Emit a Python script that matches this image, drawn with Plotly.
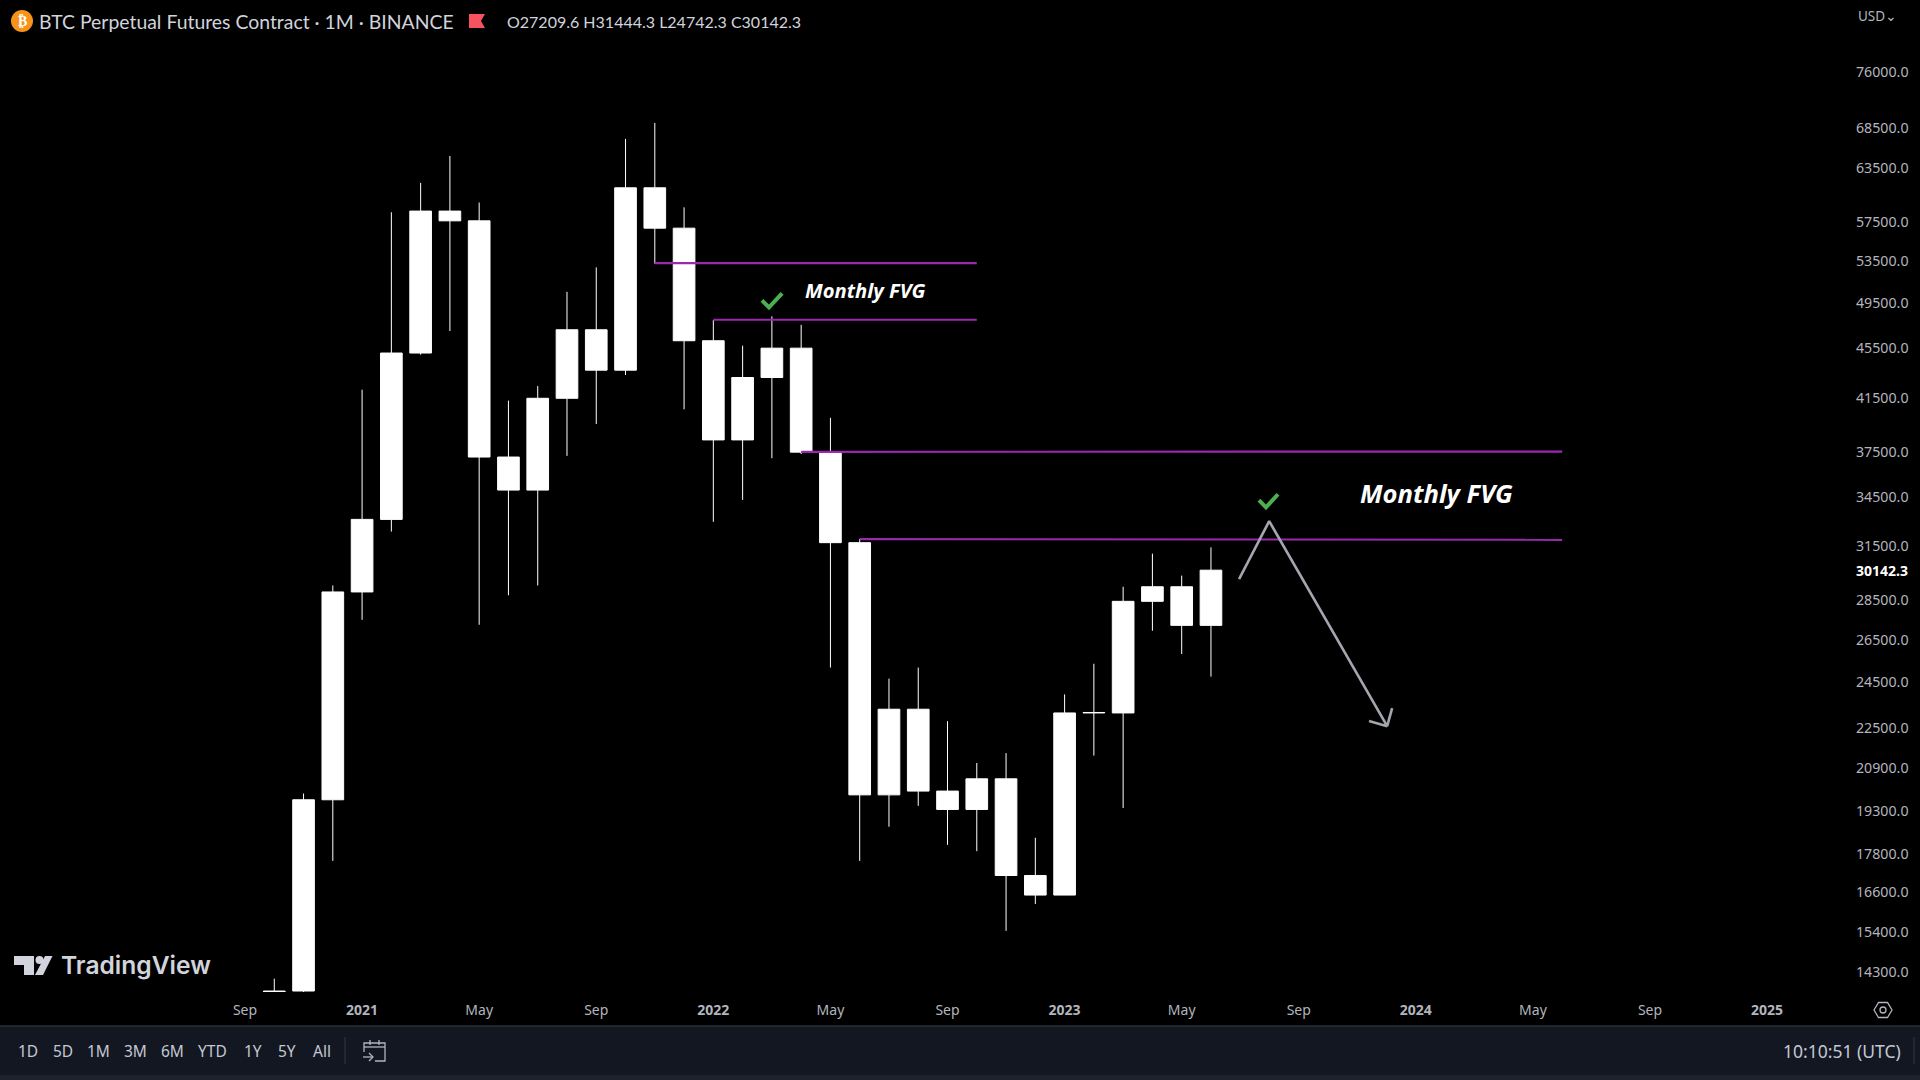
import plotly.graph_objects as go
import math

# months on the time scale, TradingView spaces them evenly so x is just the index
axis_months = ["2020-01","2020-02","2020-03","2020-04","2020-05","2020-06","2020-07","2020-08","2020-09",
               "2020-10","2020-11","2020-12","2021-01","2021-02","2021-03","2021-04","2021-05","2021-06",
               "2021-07","2021-08","2021-09","2021-10","2021-11","2021-12","2022-01","2022-02","2022-03",
               "2022-04","2022-05","2022-06","2022-07","2022-08","2022-09","2022-10","2022-11","2022-12",
               "2023-01","2023-02","2023-03","2023-04","2023-05","2023-06","2023-07","2023-08","2023-09",
               "2023-10","2023-11","2023-12","2024-01","2024-02","2024-03","2024-04","2024-05","2024-06",
               "2024-07","2024-08","2024-09","2024-10","2024-11","2024-12","2025-01","2025-02","2025-03","2025-04"]

months = axis_months[9:42]
opens  = [10776, 13810, 19690, 28950, 33120, 45090, 58670, 57620, 37180, 34970, 41460, 47080, 43680, 61260, 56840,
          46130, 38380, 43090, 45500, 37520, 31720, 19870, 23290, 20010, 19340, 20470, 17110, 16500, 23130, 23130,
          28450, 29230, 27209.6]
highs  = [14130, 19920, 29300, 42130, 58540, 61820, 64980, 59610, 41280, 42410, 50510, 52850, 67080, 69090, 59080,
          47940, 45710, 48270, 47510, 39980, 31940, 24650, 25160, 22780, 21080, 21470, 18350, 23940, 25340, 29230,
          31080, 29840, 31444.3]
lows   = [10500, 13500, 17580, 27490, 32380, 44950, 46970, 27240, 28770, 29300, 37260, 39530, 43290, 53220, 40620,
          32970, 34340, 37100, 37390, 25160, 17580, 18730, 19470, 18110, 17900, 15440, 16230, 16500, 21370, 19390,
          26940, 25800, 24742.3]
closes = [13810, 19690, 28950, 33120, 45090, 58670, 57620, 37180, 34970, 41460, 47080, 43680, 61260, 56840, 46130,
          38380, 43090, 45500, 37520, 31720, 19870, 23290, 20010, 19340, 20470, 17110, 16500, 23130, 23150, 28450,
          29230, 27209.6, 30142.3]

price_ticks = [76000, 68500, 63500, 57500, 53500, 49500, 45500, 41500, 37500, 34500, 31500,
               28500, 26500, 24500, 22500, 20900, 19300, 17800, 16600, 15400, 14300]

time_ticks = ["2020-09","2021-01","2021-05","2021-09","2022-01","2022-05","2022-09","2023-01","2023-05",
              "2023-09","2024-01","2024-05","2024-09","2025-01"]
time_labels = ["Sep","<b>2021</b>","May","Sep","<b>2022</b>","May","Sep","<b>2023</b>","May",
               "Sep","<b>2024</b>","May","Sep","<b>2025</b>"]

# purple FVG levels: start month, end month, price at start, price at end
fvg_start = ["2021-11","2022-01","2022-04","2022-06"]
fvg_end   = ["2022-10","2022-10","2024-06","2024-06"]
fvg_p0    = [53280, 47960, 37540, 31930]
fvg_p1    = [53280, 47960, 37560, 31890]

# hand drawn bits, month index (fractional) and price
arrow_x = [41.96, 42.99, 47.02, 46.40, None, 47.02, 47.19]
arrow_p = [29650, 33010, 22570, 22790, None, 22570, 23340]
check1_x = [42.64, 42.88, 43.29]
check1_p = [34320, 33870, 34700]
check2_x = [25.66, 25.90, 26.35]
check2_p = [49720, 49070, 50370]

range_buttons = ["1D","5D","1M","3M","6M","YTD","1Y","5Y","All"]
button_px = [27.5, 62.5, 98.5, 135.5, 172, 212.5, 253.5, 287, 322]

FONT = "Noto Sans"
HEAD = "Lato"
TEXT = "#b2b5be"
W, H = 1920, 1080


def px(x):
    return x / W


def py(y):
    return 1 - y / H


x_idx = [axis_months.index(m) for m in months]

fig = go.Figure()
fig.add_trace(go.Candlestick(
    x=x_idx, open=opens, high=highs, low=lows, close=closes,
    increasing=dict(line=dict(color="#ffffff", width=1), fillcolor="#ffffff"),
    decreasing=dict(line=dict(color="#ffffff", width=1), fillcolor="#ffffff"),
    whiskerwidth=0, showlegend=False,
))

for s, e, p0, p1 in zip(fvg_start, fvg_end, fvg_p0, fvg_p1):
    fig.add_trace(go.Scatter(x=[axis_months.index(s), axis_months.index(e)], y=[p0, p1], mode="lines",
                             line=dict(color="#9c27b0", width=2.2), showlegend=False))

fig.add_trace(go.Scatter(x=arrow_x, y=arrow_p, mode="lines", line=dict(color="#a3a6af", width=2.6), showlegend=False))
for cx, cp in [(check1_x, check1_p), (check2_x, check2_p)]:
    fig.add_trace(go.Scatter(x=cx, y=cp, mode="lines", line=dict(color="#4caf50", width=4), showlegend=False))

shapes = [
    # bottom toolbar
    dict(type="rect", xref="paper", yref="paper", x0=0, x1=1, y0=py(1080), y1=py(1026),
         fillcolor="#131722", line_width=0, layer="below"),
    dict(type="rect", xref="paper", yref="paper", x0=0, x1=1, y0=py(1080), y1=py(1075),
         fillcolor="#1e222d", line_width=0, layer="below"),
    dict(type="line", xref="paper", yref="paper", x0=0, x1=1, y0=py(1026), y1=py(1026),
         line=dict(color="#2a2e39", width=1.5)),
    dict(type="line", xref="paper", yref="paper", x0=px(345), x1=px(345), y0=py(1037), y1=py(1064),
         line=dict(color="#2a2e39", width=1.5)),
    dict(type="line", xref="paper", yref="paper", x0=px(1914), x1=px(1914), y0=py(1037), y1=py(1064),
         line=dict(color="#2a2e39", width=1.5)),
    # bitcoin badge and flag
    dict(type="circle", xref="paper", yref="paper", x0=px(11), x1=px(33), y0=py(32), y1=py(10),
         fillcolor="#f7931a", line_width=0),
]


def poly(points, close=False, **kw):
    path = "M" + " L".join(f"{px(a):.5f},{py(b):.5f}" for a, b in points) + (" Z" if close else "")
    d = dict(type="path", xref="paper", yref="paper", path=path)
    d.update(kw)
    return d


shapes.append(poly([(469, 14), (485, 14), (481, 21), (485, 28), (469, 28)], True, fillcolor="#f7525f", line_width=0))
# TradingView logo
shapes.append(poly([(14, 956), (34, 956), (34, 975), (24, 975), (24, 965), (14, 965)], True, fillcolor="#d1d4dc", line_width=0))
shapes.append(dict(type="circle", xref="paper", yref="paper", x0=px(35.5), x1=px(43.5), y0=py(964), y1=py(956),
                   fillcolor="#d1d4dc", line_width=0))
shapes.append(poly([(45, 956), (52.5, 956), (43, 975), (35, 975)], True, fillcolor="#d1d4dc", line_width=0))
# settings hexagon
shapes.append(poly([(1874, 1010), (1878.5, 1002.5), (1887.5, 1002.5), (1892, 1010), (1887.5, 1017.5), (1878.5, 1017.5)], True,
                   line=dict(color=TEXT, width=1.3)))
shapes.append(dict(type="circle", xref="paper", yref="paper", x0=px(1880), x1=px(1886), y0=py(1013), y1=py(1007),
                   line=dict(color=TEXT, width=1.3)))
# calendar icon
shapes.append(poly([(364, 1052), (364, 1043), (385, 1043), (385, 1061), (375, 1061)], line=dict(color=TEXT, width=1.3)))
shapes.append(poly([(364, 1047), (385, 1047)], line=dict(color=TEXT, width=1.3)))
shapes.append(poly([(370, 1040), (370, 1045)], line=dict(color=TEXT, width=1.3)))
shapes.append(poly([(379, 1040), (379, 1045)], line=dict(color=TEXT, width=1.3)))
shapes.append(poly([(363, 1057), (373, 1057)], line=dict(color=TEXT, width=1.3)))
shapes.append(poly([(369, 1053), (373, 1057), (369, 1061)], line=dict(color=TEXT, width=1.3)))


def note(text, x, y, size, color=TEXT, anchor="left", bold=False, family=FONT, weight=None):
    t = f"<b>{text}</b>" if bold else text
    f = dict(family=family, size=size, color=color)
    if weight:
        f["weight"] = weight
    return dict(text=t, x=px(x), y=py(y), xref="paper", yref="paper", xanchor=anchor, yanchor="middle",
                showarrow=False, font=f)


annotations = [
    note("₿", 22, 21, 14, "#ffffff", "center", True, "DejaVu Sans"),
    note("BTC Perpetual Futures Contract · 1M · BINANCE", 37, 21, 19.4, "#d1d4dc", family=HEAD),
    note("O27209.6 H31444.3 L24742.3 C30142.3", 505, 21, 16, "#d1d4dc", family=HEAD),
    note("USD⌄", 1856, 16, 13.5, TEXT),
    note("30142.3", 1854, 570, 14, "#ffffff", bold=True),
    note("TradingView", 59, 965, 24.6, "#d1d4dc", family="Inter", weight=600),
    note("10:10:51 (UTC)", 1903, 1051, 17.5, "#c4c8d2", "right"),
    # chart labels sit on price/time coords
    dict(text="<b><i>Monthly FVG</i></b>", x=29.17, y=math.log10(50700), xref="x", yref="y", showarrow=False,
         font=dict(family=FONT, size=20.2, color="#ffffff")),
    dict(text="<b><i>Monthly FVG</i></b>", x=48.69, y=math.log10(34770), xref="x", yref="y", showarrow=False,
         font=dict(family=FONT, size=25.6, color="#ffffff")),
]
for label, bx in zip(range_buttons, button_px):
    annotations.append(note(label, bx, 1051, 15.5, "#c4c8d2", "center"))

fig.update_layout(
    width=W, height=H, margin=dict(l=0, r=0, t=0, b=0),
    paper_bgcolor="#000000", plot_bgcolor="#000000",
    boxgap=0.26, boxgroupgap=0, showlegend=False,
    shapes=shapes, annotations=annotations,
    font=dict(family=FONT, color=TEXT),
)
fig.update_xaxes(
    domain=[0, px(1852)], range=[-0.37, 62.9], rangeslider_visible=False,
    tickmode="array", tickvals=[axis_months.index(m) for m in time_ticks], ticktext=time_labels,
    showgrid=False, zeroline=False, showline=False, ticks="", ticklabelstandoff=8,
    tickfont=dict(size=14, color=TEXT, family=FONT),
)
fig.update_yaxes(
    domain=[py(992), 1], type="log", side="right", range=[math.log10(13785), math.log10(86785)],
    tickmode="array", tickvals=price_ticks, ticktext=[f"{p:.1f}" for p in price_ticks],
    showgrid=False, zeroline=False, showline=False, ticks="", ticklabelstandoff=3,
    tickfont=dict(size=14.2, color=TEXT, family=FONT),
)

fig.write_html("out.html", config=dict(displayModeBar=False), post_script="document.body.style.margin='0';")
